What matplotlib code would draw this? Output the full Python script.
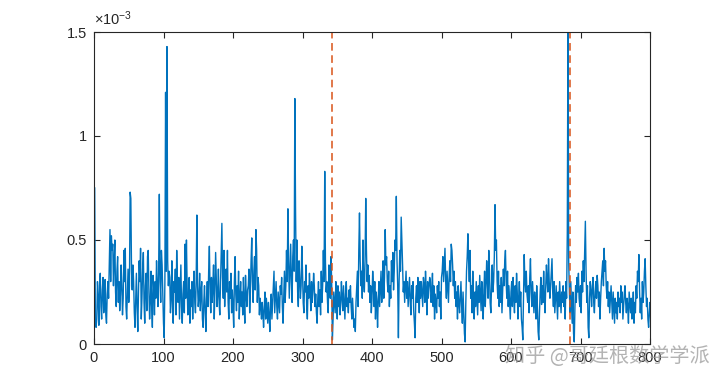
import numpy as np
import matplotlib
matplotlib.use("Agg")
import matplotlib.pyplot as plt

plt.rcParams['font.family'] = ['Liberation Sans', 'DejaVu Sans']
plt.rcParams['mathtext.fontset'] = 'custom'
plt.rcParams['mathtext.rm'] = 'Liberation Sans'
plt.rcParams['mathtext.it'] = 'Liberation Sans'

# signal values in units of 1e-5 (i.e. 0.01 x 10^-3)
seg_000 = [75, 10, 8, 12, 30, 22, 9, 28, 34, 18, 12, 26, 32, 15, 20, 31, 14, 10, 24, 30,
           22, 38, 55, 30, 52, 45, 48, 28, 40, 50, 25, 18, 35, 42, 20, 30, 16, 24, 38, 28,
           14, 22, 45, 30, 46, 18, 12, 25, 36, 20, 28, 73, 70, 35, 26, 38, 30, 15, 8, 22,
           34, 18, 6, 25, 40, 30, 46, 12, 22, 36, 44, 20, 10, 28, 34, 16, 42, 45, 25, 12,
           20, 35, 18, 8, 33, 26, 14, 30, 22, 40, 28, 18, 35, 72, 30, 20, 45, 38, 25, 10]
seg_100 = [3, 30, 121, 35, 143, 40, 28, 35, 32, 15, 22, 40, 18, 10, 30, 25, 36, 14, 45, 30,
           20, 32, 12, 26, 38, 18, 10, 24, 30, 15, 48, 22, 50, 28, 14, 20, 32, 10, 26, 18,
           30, 12, 25, 35, 20, 15, 30, 62, 28, 18, 22, 34, 16, 25, 30, 12, 8, 20, 28, 15,
           6, 22, 30, 18, 35, 47, 25, 15, 32, 20, 28, 38, 12, 26, 44, 30, 18, 24, 36, 20,
           14, 28, 40, 58, 32, 22, 45, 18, 30, 36, 25, 45, 20, 12, 30, 22, 34, 15, 26, 18]
seg_200 = [8, 30, 42, 24, 16, 28, 20, 35, 12, 22, 30, 18, 25, 14, 32, 20, 10, 33, 24, 18, 26,
           28, 36, 15, 25, 40, 51, 30, 20, 35, 42, 26, 55, 45, 20, 32, 28, 14, 22, 18, 12,
           20, 15, 8, 18, 25, 12, 22, 16, 10, 20, 14, 6, 18, 24, 12, 20, 28, 35, 15, 22,
           30, 18, 12, 25, 20, 15, 28, 24, 32, 18, 10, 22, 35, 20, 28, 45, 30, 65, 40, 22,
           35, 48, 30, 20, 42, 50, 35, 118, 64, 30, 50, 25, 18, 40, 32, 22, 28, 47, 35, 20]
seg_300 = [15, 30, 25, 38, 18, 12, 28, 22, 34, 26, 16, 30, 20, 25, 34, 28, 18, 24, 15, 10,
           22, 30, 18, 26, 14, 35, 20, 28, 45, 30, 83, 40, 25, 30, 20, 15, 38, 28, 22, 42,
           30, 2, 12, 25, 20, 15, 30, 22, 12, 28, 18, 25, 14, 20, 30, 22, 16, 28, 20, 12,
           24, 30, 18, 22, 15, 26, 20, 28, 18, 12, 22, 15, 8, 12, 6, 20, 28, 35, 18, 45,
           63, 40, 28, 35, 22, 50, 30, 25, 40, 70, 45, 30, 38, 25, 33, 20, 28, 15, 22, 35]
seg_400 = [28, 18, 30, 12, 25, 20, 8, 22, 30, 18, 26, 35, 20, 28, 40, 22, 32, 55, 38, 42,
           30, 25, 35, 18, 28, 22, 40, 30, 44, 26, 35, 50, 45, 71, 40, 28, 3, 30, 45, 35,
           61, 50, 38, 25, 30, 20, 28, 35, 22, 30, 18, 25, 32, 20, 14, 28, 22, 30, 16, 10,
           3, 22, 28, 20, 32, 25, 15, 30, 22, 30, 24, 18, 32, 28, 20, 35, 26, 14, 30, 22, 27,
           32, 30, 20, 25, 34, 18, 28, 12, 24, 20, 15, 28, 22, 30, 18, 25, 12, 32, 35, 42]
seg_500 = [30, 38, 46, 30, 22, 35, 28, 20, 32, 40, 30, 48, 45, 38, 28, 35, 22, 30, 18, 25,
           12, 28, 20, 15, 22, 30, 18, 10, 25, 15, 5, 1, 20, 35, 42, 53, 40, 30, 45, 22,
           28, 15, 35, 20, 12, 25, 18, 30, 22, 14, 28, 20, 33, 25, 16, 30, 22, 12, 26, 35,
           18, 28, 40, 30, 22, 45, 35, 20, 15, 28, 38, 25, 30, 42, 67, 45, 50, 30, 22, 35,
           18, 28, 20, 32, 15, 25, 36, 28, 40, 45, 30, 22, 35, 18, 28, 20, 12, 25, 30, 18]
seg_600 = [32, 22, 15, 28, 20, 34, 25, 12, 22, 30, 18, 25, 12, 8, 2, 22, 43, 30, 25, 35, 24,
           20, 28, 15, 32, 41, 25, 18, 30, 22, 15, 25, 20, 12, 28, 18, 6, 2, 15, 25, 32, 19,
           28, 20, 35, 22, 15, 28, 38, 30, 25, 41, 30, 22, 28, 35, 41, 25, 18, 30, 15, 22,
           28, 20, 12, 25, 18, 30, 22, 15, 25, 20, 28, 18, 25, 12, 30, 22, 53, 160, 40, 25,
           15, 30, 20, 10, 25, 5, 1, 18, 28, 20, 32, 25, 34, 22, 18, 28, 15, 35, 25, 40]
seg_700 = [30, 45, 59, 35, 20, 28, 8, 3, 22, 30, 25, 18, 28, 32, 20, 15, 25, 30, 22, 33,
           28, 18, 25, 12, 22, 30, 35, 40, 28, 46, 35, 40, 28, 22, 30, 18, 25, 15, 22, 28,
           20, 12, 25, 18, 10, 22, 15, 20, 12, 25, 18, 22, 15, 28, 20, 25, 12, 18, 24, 28,
           20, 15, 22, 18, 10, 25, 20, 15, 22, 12, 18, 25, 10, 20, 15, 28, 22, 35, 30, 43,
           25, 15, 22, 12, 30, 20, 25, 35, 41, 28, 18, 22, 12, 8, 15, 20, 12]

values = np.array(seg_000 + seg_100 + seg_200 + seg_300 + seg_400 +
                  seg_500 + seg_600 + seg_700, dtype=float) * 1e-5
x = np.arange(1, len(values) + 1)

vlines = [343, 685]
xticks = [0, 100, 200, 300, 400, 500, 600, 700, 800]
yticks = [0, 0.5e-3, 1e-3, 1.5e-3]
ytick_labels = ['0', '0.5', '1', '1.5']

fig = plt.figure(figsize=(7.2, 3.87), dpi=100)
ax = fig.add_axes([94 / 720, 1 - 344 / 387, (650 - 94) / 720, (344 - 32) / 387])

ax.plot(x, values, color='#0072BD', linewidth=1.0)
for v in vlines:
    ax.axvline(v, color='#D95319', linestyle=(0, (5, 3)), linewidth=1.1)

ax.set_xlim(0, 800)
ax.set_ylim(0, 1.5e-3)
ax.set_xticks(xticks)
ax.set_xticklabels([str(t) for t in xticks])
ax.set_yticks(yticks)
ax.set_yticklabels(ytick_labels)

axc = '#262626'
for s in ax.spines.values():
    s.set_color(axc)
    s.set_linewidth(0.8)
ax.tick_params(direction='in', length=4, width=0.8, colors=axc, labelsize=10.5,
               top=True, right=True, pad=5)
ax.text(0.0, 1.012, r'$\times10^{-3}$', transform=ax.transAxes, ha='left', va='bottom',
        fontsize=10.5, color=axc)

fig.text(505 / 720, 1 - 357 / 387, '知乎 @哥廷根数学学派', fontsize=14.5,
         family=['Noto Sans CJK SC', 'DejaVu Sans'], color='#9a9a9a', alpha=0.75,
         ha='left', va='center')

fig.savefig('out.png', dpi=100)
